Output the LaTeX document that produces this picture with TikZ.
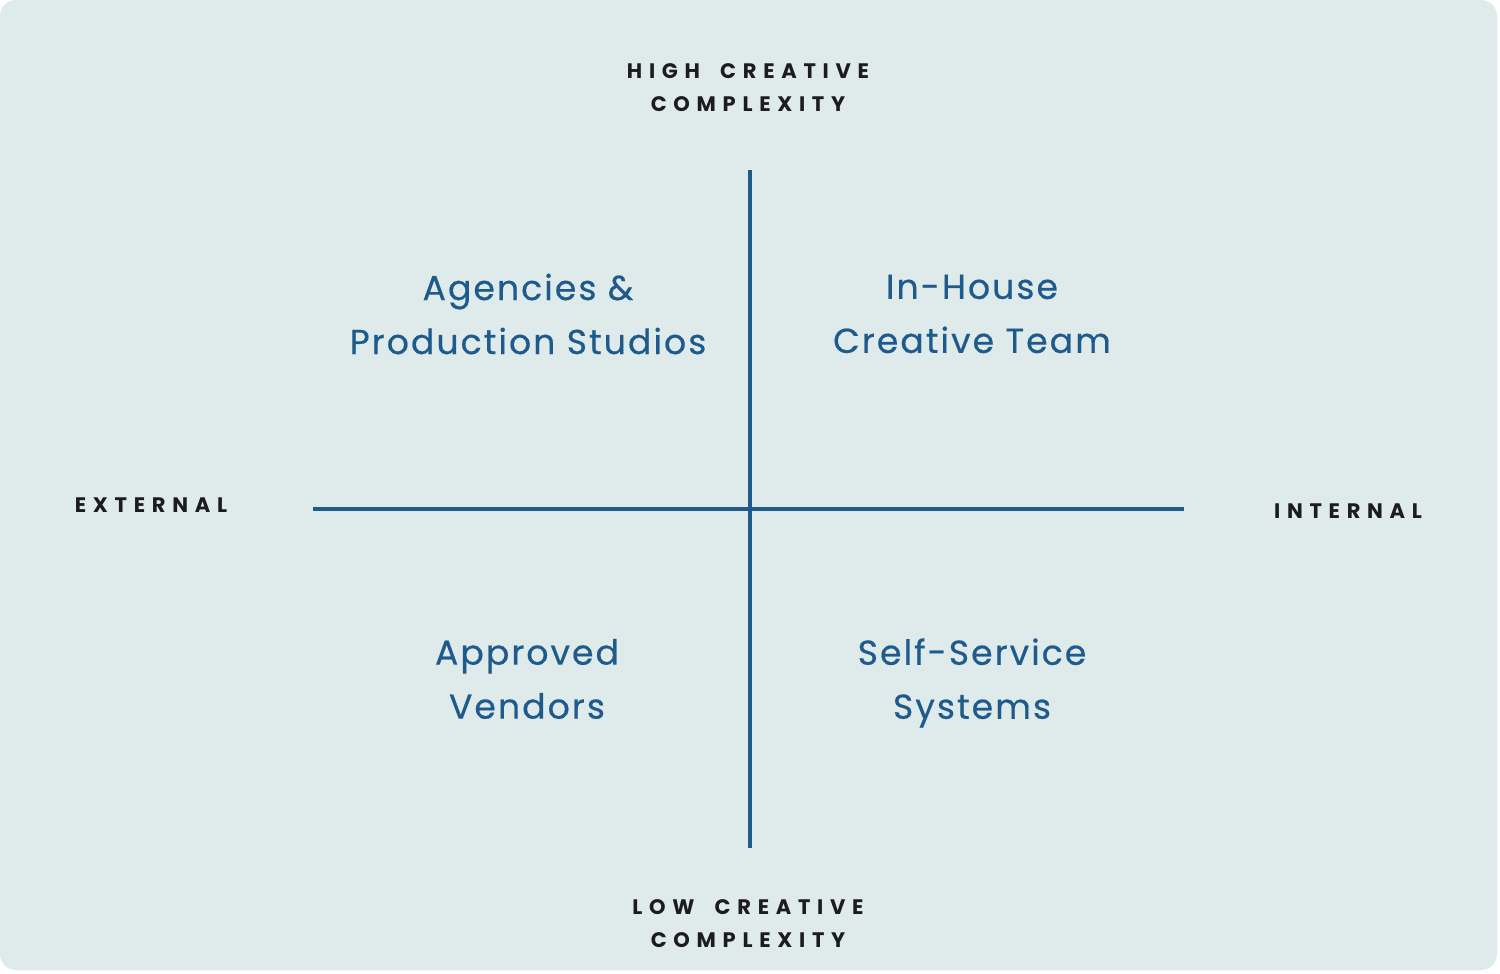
\documentclass[tikz,border=0pt]{standalone}
\usepackage{fontspec}
\setmainfont{Poppins}
\newfontfamily\quadfont[LetterSpace=6,FakeBold=0.5]{Poppins}
\newfontfamily\axisfont[LetterSpace=32,WordSpace=1.8]{Poppins}
\definecolor{bg}{HTML}{DFEBEA}
\definecolor{navy}{HTML}{1F5A8C}
\definecolor{ink}{HTML}{1C1C1C}
\begin{document}
\begin{tikzpicture}[x=0.5pt,y=-0.5pt,
  quad/.style={text=navy,align=center,font=\quadfont\fontsize{17.3}{27}\selectfont},
  axislab/.style={text=ink,align=center,font=\axisfont\bfseries\fontsize{10.5}{16.5}\selectfont},
  axisline/.style={draw=navy,line width=2pt}]
\useasboundingbox (0,0) rectangle (1500,974);
\fill[white] (0,0) rectangle (1500,974);
\fill[bg,rounded corners=8pt] (0,0) rectangle (1497,970);
\coordinate (top) at (750,170);
\coordinate (bot) at (750,848);
\coordinate (lft) at (313,509);
\coordinate (rgt) at (1184,509);
\draw[axisline] (top) -- (bot);
\draw[axisline] (lft) -- (rgt);
\node[axislab] (hi) at (748,88) {HIGH CREATIVE\\COMPLEXITY};
\node[axislab] (lo) at (748,924) {LOW CREATIVE\\COMPLEXITY};
\node[axislab] (ext) at (151,505) {EXTERNAL};
\node[axislab] (int) at (1348,511) {INTERNAL};
\node[quad] (q1) at (528,314) {Agencies \&\\Production Studios};
\node[quad] (q2) at (972,314) {In-House\\Creative Team};
\node[quad] (q3) at (527,679) {Approved\\Vendors};
\node[quad] (q4) at (972,683) {Self-Service\\Systems};
\end{tikzpicture}
\end{document}
